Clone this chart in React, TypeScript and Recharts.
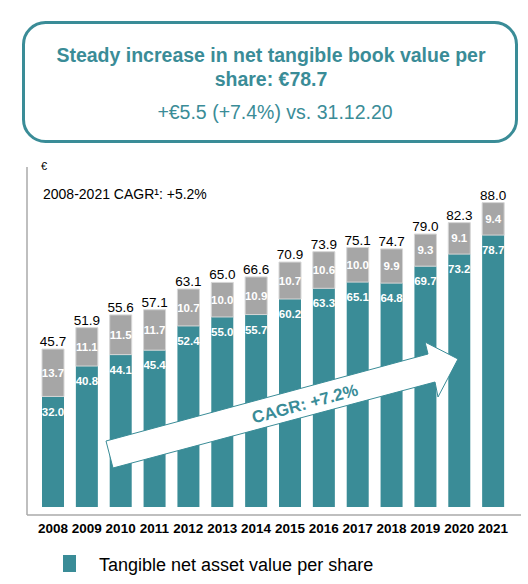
import React from "react";
import { BarChart, Bar, XAxis, YAxis, LabelList } from "recharts";

const TEAL = "#3A8C97";
const GREY = "#A6A6A6";

const years = ["2008", "2009", "2010", "2011", "2012", "2013", "2014", "2015", "2016", "2017", "2018", "2019", "2020", "2021"];
const tangible = [32.0, 40.8, 44.1, 45.4, 52.4, 55.0, 55.7, 60.2, 63.3, 65.1, 64.8, 69.7, 73.2, 78.7];
const other = [13.7, 11.1, 11.5, 11.7, 10.7, 10.0, 10.9, 10.7, 10.6, 10.0, 9.9, 9.3, 9.1, 9.4];
const totals = [45.7, 51.9, 55.6, 57.1, 63.1, 65.0, 66.6, 70.9, 73.9, 75.1, 74.7, 79.0, 82.3, 88.0];

const data = years.map((year, i) => ({
  year,
  tangible: tangible[i],
  other: other[i],
  total: totals[i],
}));

const fmt = (v: any) => Number(v).toFixed(1);

const App: React.FC = () => {
  return (
    <div
      style={{
        position: "absolute",
        left: 0,
        top: 0,
        width: 528,
        height: 584,
        background: "#fff",
        fontFamily: "'Liberation Sans', Arial, sans-serif",
      }}
    >
      <BarChart
        width={528}
        height={584}
        data={data}
        margin={{ top: 161.5, right: 18, left: 36, bottom: 57 }}
        barSize={22}
      >
        <XAxis
          dataKey="year"
          axisLine={false}
          tickLine={false}
          tickSize={0}
          tickMargin={16}
          height={20}
          interval={0}
          tick={{ fontSize: 13.5, fontWeight: 700, fill: "#000" }}
        />
        <YAxis hide domain={[0, 100]} />
        <Bar dataKey="tangible" stackId="a" fill={TEAL} isAnimationActive={false}>
          <LabelList
            dataKey="tangible"
            position="insideTop"
            offset={11}
            formatter={fmt}
            fill="#fff"
            fontSize={11.5}
            fontWeight={700}
          />
        </Bar>
        <Bar dataKey="other" stackId="a" fill={GREY} stroke="#d6d6d6" strokeWidth={1} isAnimationActive={false}>
          <LabelList
            dataKey="other"
            position="center"
            formatter={fmt}
            fill="#fff"
            fontSize={11.5}
            fontWeight={700}
          />
          <LabelList
            dataKey="total"
            position="top"
            offset={3}
            formatter={fmt}
            fill="#000"
            fontSize={13.5}
          />
        </Bar>
      </BarChart>

      <svg
        width={528}
        height={584}
        style={{ position: "absolute", left: 0, top: 0, pointerEvents: "none" }}
      >
        {/* headline box */}
        <rect x={23.5} y={22.5} width={493} height={119} rx={22} fill="#fff" stroke={TEAL} strokeWidth={3} />
        <text x={271} y={62} textAnchor="middle" fill={TEAL} fontSize={19.5} fontWeight={700}>
          Steady increase in net tangible book value per
        </text>
        <text x={271} y={86} textAnchor="middle" fill={TEAL} fontSize={19.5} fontWeight={700}>
          share: €78.7
        </text>
        <text x={275} y={119} textAnchor="middle" fill={TEAL} fontSize={19.5}>
          +€5.5 (+7.4%) vs. 31.12.20
        </text>

        {/* chart frame */}
        <line x1={27} y1={167} x2={27} y2={515} stroke="#aaaaaa" strokeWidth={1.5} />
        <line x1={27} y1={515} x2={521} y2={515} stroke="#aaaaaa" strokeWidth={1.5} />
        <text x={41} y={170} fill="#000" fontSize={11}>€</text>
        <text x={43} y={199} fill="#000" fontSize={14}>2008-2021 CAGR¹: +5.2%</text>

        {/* CAGR arrow */}
        <polygon
          points="106,441 428,354 425,342 458,359 438,397 435,382 113,468"
          fill="#fff"
          stroke={TEAL}
          strokeWidth={1}
        />
        <text
          x={305}
          y={404}
          textAnchor="middle"
          dominantBaseline="central"
          fill={TEAL}
          fontSize={17}
          fontWeight={700}
          transform="rotate(-15.2 305 404)"
        >
          CAGR: +7.2%
        </text>

        {/* legend */}
        <rect x={63} y={555} width={13} height={17} fill={TEAL} />
        <text x={99} y={571} fill="#000" fontSize={18}>Tangible net asset value per share</text>
      </svg>
    </div>
  );
};

export default App;
